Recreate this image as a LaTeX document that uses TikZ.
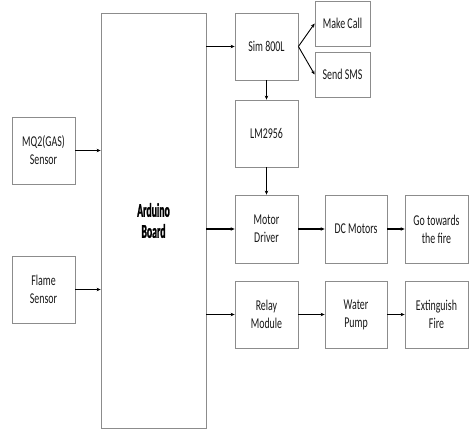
\documentclass[tikz,border=0pt]{standalone}
\usepackage{fontspec}
\setmainfont{Carlito}[FakeStretch=0.66]
\newfontfamily\ardfont{Carlito}[FakeStretch=0.5,FakeBold=1.2,UprightFont=* Bold]
\usetikzlibrary{arrows.meta}
\begin{document}
\begin{tikzpicture}[x=1pt,y=-1pt,
  blk/.style={draw=black!45,line width=0.8pt,fill=white,align=center,inner sep=0pt,
    font=\fontsize{15}{18}\selectfont,text=black!90},
  arr/.style={-{Stealth[length=4pt,width=3.5pt]},line width=1.5pt,black},
  thin/.style={-{Stealth[length=4pt,width=3.5pt]},line width=0.9pt,black}]
\useasboundingbox (0,0) rectangle (474,434);
\node[blk,minimum width=105pt,minimum height=415pt,text=black,font=\ardfont\fontsize{19.5}{21}\selectfont] (ard) at (153.5,220.5) {Arduino\\Board};
\node[blk,minimum width=63pt,minimum height=67pt] (mq2) at (43.5,150.5) {MQ2(GAS)\\Sensor};
\node[blk,minimum width=63pt,minimum height=67pt] (flame) at (43.5,289.5) {Flame\\Sensor};
\node[blk,minimum width=63pt,minimum height=67pt] (sim) at (266.5,46.5) {Sim 800L};
\node[blk,minimum width=55pt,minimum height=45pt] (call) at (342.5,23.5) {Make Call};
\node[blk,minimum width=55pt,minimum height=45pt] (sms) at (342.5,74.5) {Send SMS};
\node[blk,minimum width=63pt,minimum height=67pt] (lm) at (266.5,133.5) {LM2956};
\node[blk,minimum width=63pt,minimum height=68pt] (motor) at (266.5,229) {Motor\\Driver};
\node[blk,minimum width=62pt,minimum height=68pt] (dc) at (356,229) {DC Motors};
\node[blk,minimum width=63pt,minimum height=68pt] (go) at (436.5,229) {Go towards\\the fire};
\node[blk,minimum width=63pt,minimum height=67pt] (relay) at (266.5,314.5) {Relay\\Module};
\node[blk,minimum width=62pt,minimum height=67pt] (water) at (356,314.5) {Water\\Pump};
\node[blk,minimum width=63pt,minimum height=67pt] (ext) at (436.5,314.5) {Extinguish\\Fire};
\draw[arr] (mq2) -- (mq2 -| ard.west);
\draw[arr] (flame) -- (flame -| ard.west);
\draw[arr] (ard.east |- sim) -- (sim);
\draw[arr] (ard.east |- motor) -- (motor);
\draw[arr] (ard.east |- relay) -- (relay);
\draw[thin] (sim.east) -- (call.west);
\draw[thin] (sim.east) -- (sms.west);
\draw[thin] (sim) -- (lm);
\draw[thin] (lm) -- (motor);
\draw[arr] (motor) -- (dc);
\draw[arr] (dc) -- (go);
\draw[arr] (relay) -- (water);
\draw[arr] (water) -- (ext);
\end{tikzpicture}
\end{document}
